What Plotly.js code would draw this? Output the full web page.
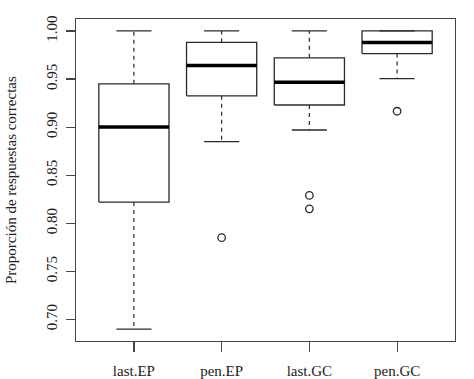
<!DOCTYPE html>
<html>
<head>
<meta charset="utf-8">
<script src="https://cdn.plot.ly/plotly-3.0.1.min.js"></script>
<style>html,body{margin:0;padding:0;background:#fff;}</style>
</head>
<body>
<div id="chart" style="width:474px;height:379px;"></div>
<script>
// Data
const categories = ["last.EP", "pen.EP", "last.GC", "pen.GC"];
const lowerWhisker = [0.690, 0.885, 0.897, 0.9505];
const q1 = [0.822, 0.9325, 0.923, 0.9765];
const medians = [0.900, 0.964, 0.9467, 0.988];
const q3 = [0.945, 0.988, 0.972, 1.000];
const upperWhisker = [1.000, 1.000, 1.000, 1.000];
const outlierGroups = [1, 2, 2, 3];          // index into categories
const outlierValues = [0.785, 0.829, 0.815, 0.9165];
const yTicks = [0.70, 0.75, 0.80, 0.85, 0.90, 0.95, 1.00];

const half = 0.4, capHalf = 0.2;
const pos = categories.map((_, i) => i + 1);

const boxX = [], boxY = [], medX = [], medY = [], whX = [], whY = [], capX = [], capY = [];
pos.forEach((p, i) => {
  boxX.push(p - half, p + half, p + half, p - half, p - half, null);
  boxY.push(q1[i], q1[i], q3[i], q3[i], q1[i], null);
  medX.push(p - half, p + half, null);
  medY.push(medians[i], medians[i], null);
  whX.push(p, p, null, p, p, null);
  whY.push(q3[i], upperWhisker[i], null, q1[i], lowerWhisker[i], null);
  capX.push(p - capHalf, p + capHalf, null, p - capHalf, p + capHalf, null);
  capY.push(upperWhisker[i], upperWhisker[i], null, lowerWhisker[i], lowerWhisker[i], null);
});

const lineCol = '#2a2a2a';
const traces = [
  {x: whX, y: whY, mode: 'lines', line: {color: lineCol, width: 1.2, dash: '4px,4px'}, hoverinfo: 'skip'},
  {x: capX, y: capY, mode: 'lines', line: {color: lineCol, width: 1.3}, hoverinfo: 'skip'},
  {x: boxX, y: boxY, mode: 'lines', line: {color: lineCol, width: 1.3}, fill: 'none', hoverinfo: 'skip'},
  {x: medX, y: medY, mode: 'lines', line: {color: '#000', width: 3.5}, hoverinfo: 'skip'},
  {x: outlierGroups.map(g => pos[g]), y: outlierValues, mode: 'markers',
   marker: {symbol: 'circle-open', size: 7.5, color: lineCol, line: {width: 1.3, color: lineCol}}}
];

const font = {family: 'Liberation Serif, Times New Roman, serif', size: 15, color: '#222'};
const layout = {
  width: 474, height: 379,
  margin: {l: 76, r: 19, t: 19, b: 38},
  paper_bgcolor: '#fff', plot_bgcolor: '#fff',
  showlegend: false,
  font: font,
  xaxis: {
    range: [0.34, 4.66], tickvals: pos, ticktext: categories,
    showgrid: false, zeroline: false, showline: true, mirror: true,
    linecolor: '#444', linewidth: 1.3,
    ticks: 'outside', ticklen: 10, tickwidth: 1.2, tickcolor: '#444',
    ticklabelstandoff: 6, tickfont: font
  },
  yaxis: {
    range: [0.6776, 1.0124], tickvals: yTicks, ticktext: yTicks.map(v => v.toFixed(2)),
    tickangle: -90,
    showgrid: false, zeroline: false, showline: true, mirror: true,
    linecolor: '#444', linewidth: 1.3,
    ticks: 'outside', ticklen: 9, tickwidth: 1.2, tickcolor: '#444',
    ticklabelstandoff: 3, tickfont: font
  },
  annotations: [{
    text: 'Proporción de respuestas correctas', xref: 'paper', yref: 'paper',
    x: 0, y: 0.5, xanchor: 'center', yanchor: 'middle', xshift: -65,
    textangle: -90, showarrow: false, font: font
  }]
};

Plotly.newPlot('chart', traces, layout, {staticPlot: true, displayModeBar: false});
</script>
</body>
</html>
